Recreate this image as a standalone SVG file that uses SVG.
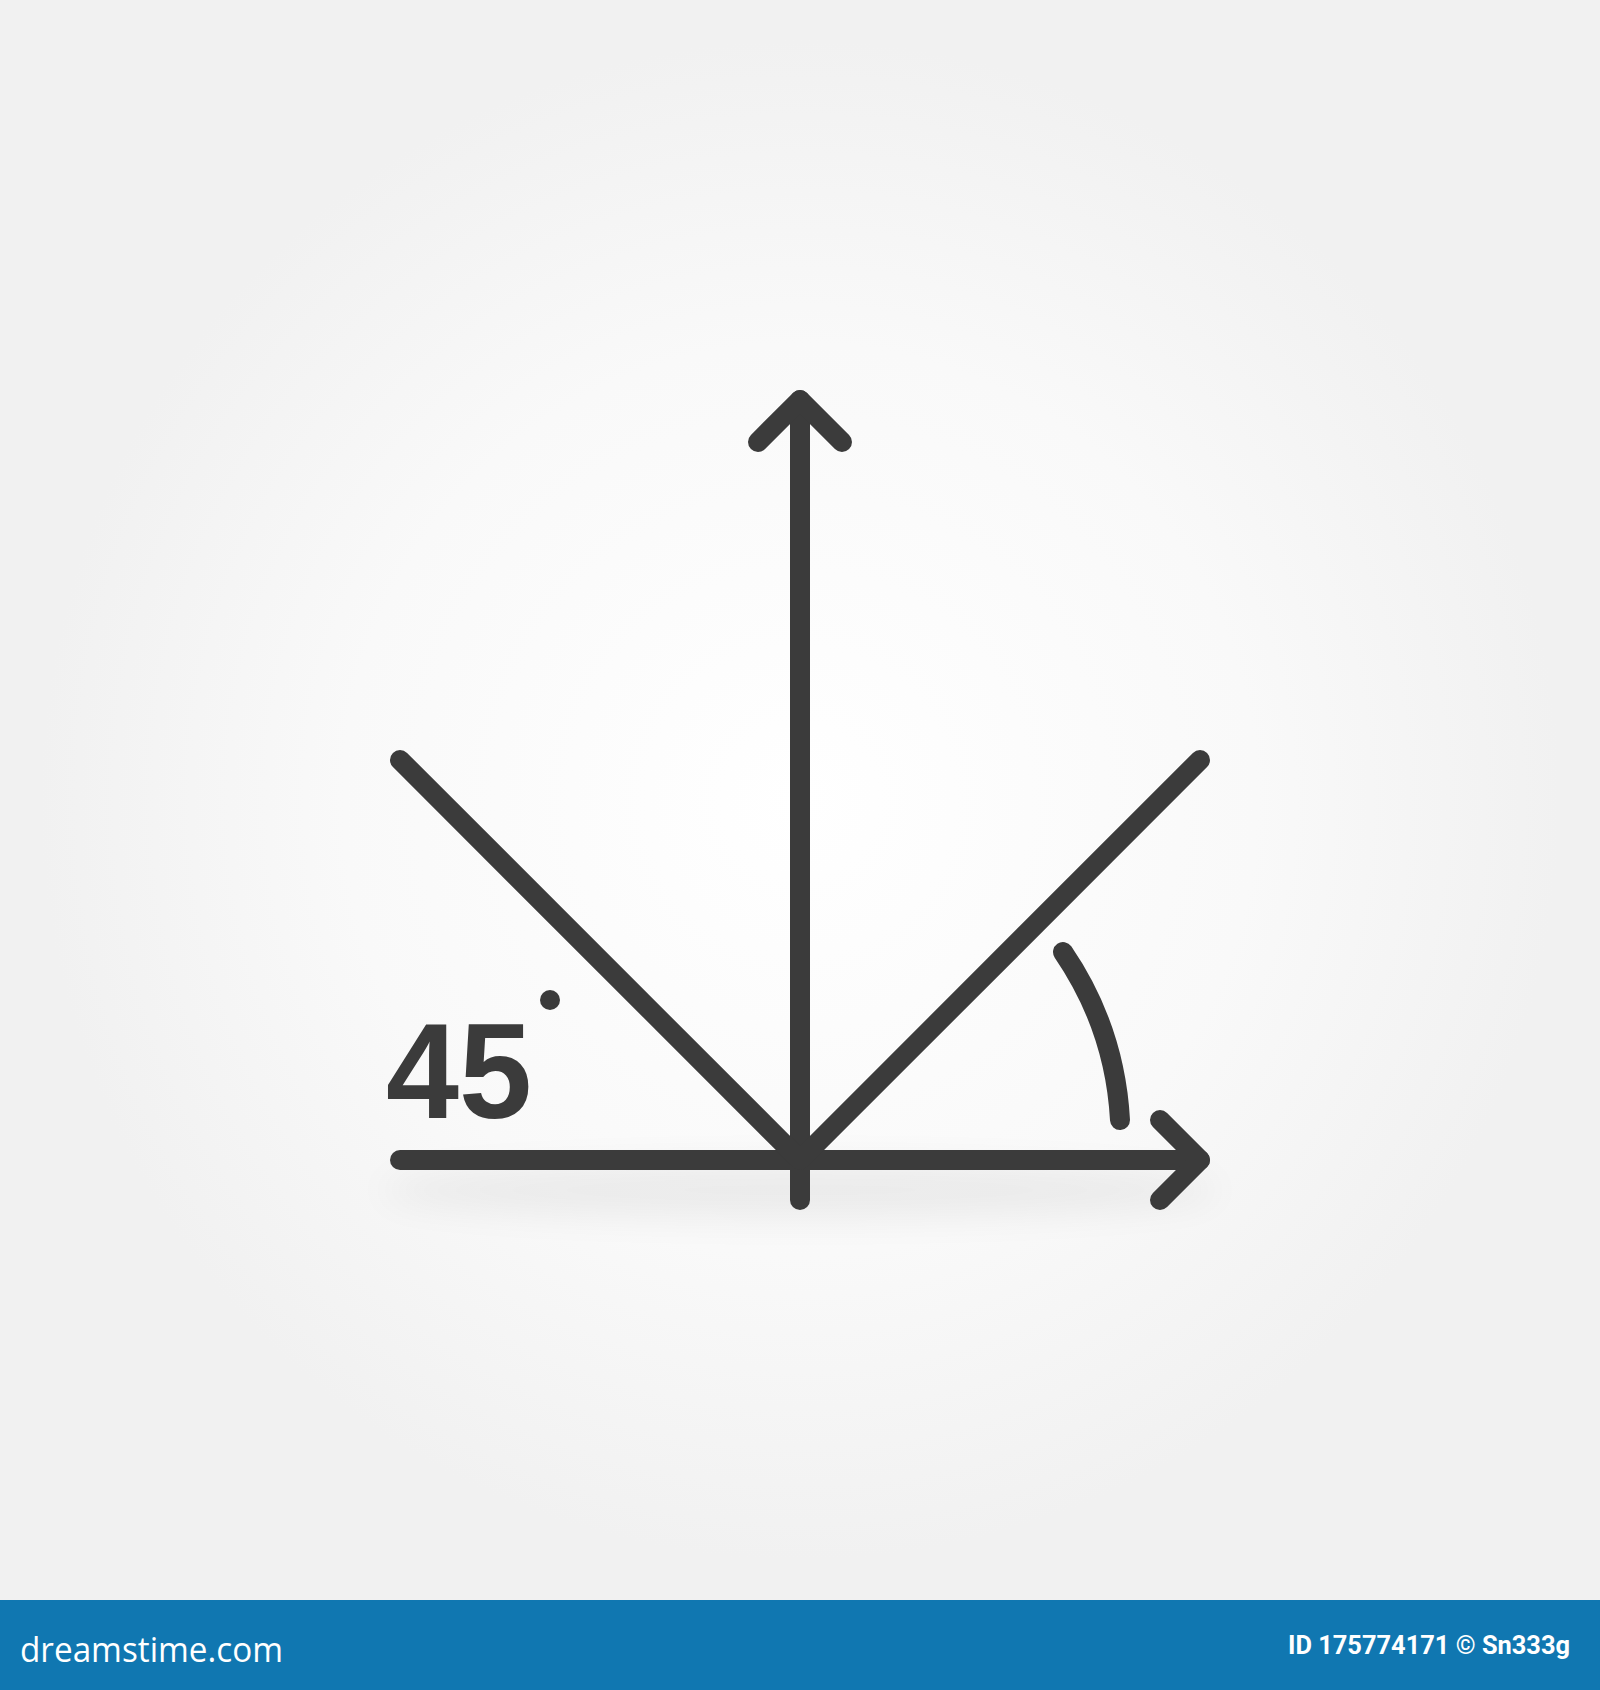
<svg xmlns="http://www.w3.org/2000/svg" width="1600" height="1690" viewBox="0 0 1600 1690">
<defs>
<radialGradient id="bg" cx="800" cy="800" r="760" gradientUnits="userSpaceOnUse">
<stop offset="0" stop-color="#ffffff"/>
<stop offset="0.6" stop-color="#f9f9f9"/>
<stop offset="1" stop-color="#f1f1f1"/>
</radialGradient>
<filter id="blur" x="-50%" y="-50%" width="200%" height="200%"><feGaussianBlur stdDeviation="18"/></filter>
<style>
.ln{fill:none;stroke:#3b3b3b;stroke-width:20;stroke-linecap:round;stroke-linejoin:round}
.num{font-family:"Liberation Sans",Arial,sans-serif;font-weight:bold;fill:#3b3b3b}
.ft{fill:#ffffff}
</style>
</defs>
<rect width="1600" height="1690" fill="#f1f1f1"/>
<rect width="1600" height="1600" fill="url(#bg)"/>
<ellipse cx="800" cy="1190" rx="420" ry="28" fill="#000" opacity="0.06" filter="url(#blur)"/>
<g id="connectors">
<path class="ln" d="M800 400 V1200"/>
<path class="ln" d="M758 442 L800 400 L842 442"/>
<path class="ln" d="M400 1160 H1200"/>
<path class="ln" d="M1160 1120 L1200 1160 L1160 1200"/>
<path class="ln" d="M400 760 L800 1160 L1200 760"/>
<path class="ln" d="M1063 952 A330 330 0 0 1 1120 1120"/>
</g>
<g id="label">
<text class="num" x="386" y="1118" font-size="136" textLength="146" lengthAdjust="spacingAndGlyphs">45</text>
<circle cx="550" cy="1000" r="10" fill="#3b3b3b"/>
</g>
<g id="footer">
<rect x="0" y="1600" width="1600" height="90" fill="#1077b1"/>
<text class="ft" x="20" y="1662" font-family="'Open Sans','Liberation Sans',sans-serif" font-size="34" textLength="263" lengthAdjust="spacingAndGlyphs">dreamstime.com</text>
<text class="ft" x="1288" y="1654" font-family="Roboto,'Liberation Sans',sans-serif" font-weight="bold" font-size="25" textLength="282" lengthAdjust="spacingAndGlyphs">ID 175774171 © Sn333g</text>
</g>
</svg>
